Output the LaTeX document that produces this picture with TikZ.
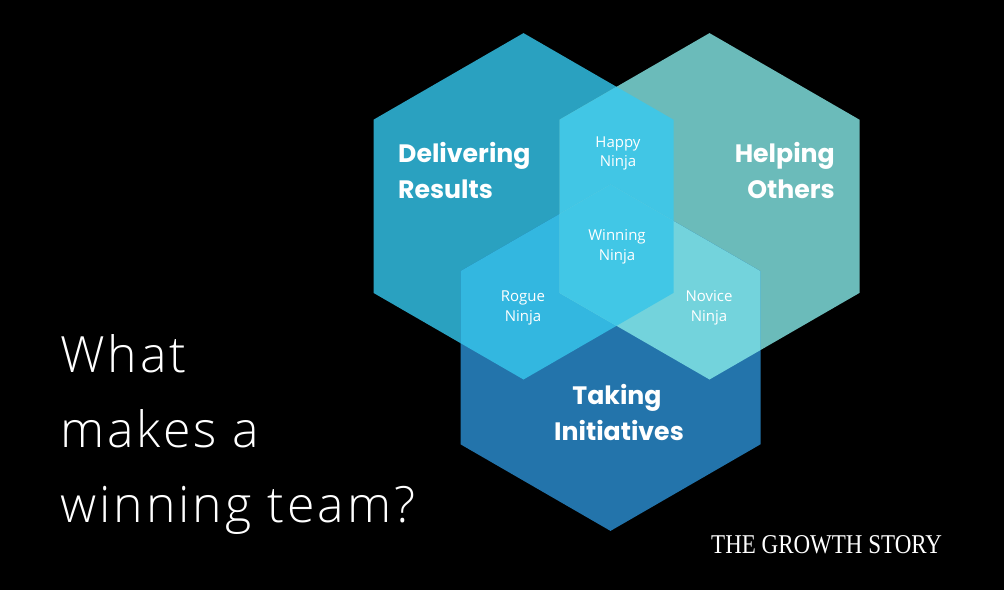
\documentclass[tikz,border=0pt]{standalone}
\usepackage{fontspec}
\setmainfont{Open Sans}
\newfontfamily\popfont{Poppins}
\newfontfamily\lightfont{Open Sans Light}[LetterSpace=6]
\newfontfamily\storyfont{Liberation Serif}
\definecolor{cA}{HTML}{2AA1C0}
\definecolor{cB}{HTML}{6BBBBA}
\definecolor{cC}{HTML}{2374AB}
\definecolor{cAB}{HTML}{41C6E5}
\definecolor{cAC}{HTML}{33B7E0}
\definecolor{cBC}{HTML}{73D3DC}
\definecolor{cABC}{HTML}{41C7E6}
\newcommand\hexshape[2]{(#1,#2-173.2) -- (#1+150,#2-86.6) -- (#1+150,#2+86.6) -- (#1,#2+173.2) -- (#1-150,#2+86.6) -- (#1-150,#2-86.6) -- cycle}
\tikzset{
  biglabel/.style={text=white, inner sep=0pt, font=\popfont\bfseries\fontsize{25.2}{30}\selectfont},
  smalllabel/.style={text=white, inner sep=0pt, font=\fontsize{15}{18}\selectfont},
  titlelabel/.style={text=white, inner sep=0pt, anchor=base west, font=\lightfont\fontsize{50}{56}\selectfont},
  storylabel/.style={text=white, inner sep=0pt, anchor=base west, font=\storyfont\fontsize{23}{26}\selectfont}
}
\begin{document}
\begin{tikzpicture}[x=1pt,y=-1pt]
\useasboundingbox[fill=black] (0,0) rectangle (1004,590);
% base hexagons
\fill[cA] \hexshape{523.5}{206.3};
\fill[cB] \hexshape{709.5}{206.3};
\fill[cC] \hexshape{610.5}{357.7};
% pairwise overlaps
\begin{scope}
  \clip \hexshape{523.5}{206.3};
  \fill[cAB] \hexshape{709.5}{206.3};
\end{scope}
\begin{scope}
  \clip \hexshape{523.5}{206.3};
  \fill[cAC] \hexshape{610.5}{357.7};
\end{scope}
\begin{scope}
  \clip \hexshape{709.5}{206.3};
  \fill[cBC] \hexshape{610.5}{357.7};
\end{scope}
\begin{scope}
  \clip \hexshape{523.5}{206.3};
  \clip \hexshape{709.5}{206.3};
  \fill[cABC] \hexshape{610.5}{357.7};
\end{scope}
% big labels
\node[biglabel, anchor=base west] (dr1) at (398,162) {Delivering};
\node[biglabel, anchor=base west] (dr2) at (398,198) {Results};
\node[biglabel, anchor=base east] (ho1) at (835,162) {Helping};
\node[biglabel, anchor=base east] (ho2) at (835,198) {Others};
\node[biglabel, anchor=base] (ti1) at (617,404) {Taking};
\node[biglabel, anchor=base] (ti2) at (619,440) {Initiatives};
% small labels
\node[smalllabel, anchor=base] (hn1) at (618,147) {Happy};
\node[smalllabel, anchor=base] (hn2) at (618,166) {Ninja};
\node[smalllabel, anchor=base] (wn1) at (617,240) {Winning};
\node[smalllabel, anchor=base] (wn2) at (617,260) {Ninja};
\node[smalllabel, anchor=base] (rn1) at (523,301) {Rogue};
\node[smalllabel, anchor=base] (rn2) at (523,321) {Ninja};
\node[smalllabel, anchor=base] (nn1) at (709,301) {Novice};
\node[smalllabel, anchor=base] (nn2) at (709,321) {Ninja};
% title
\node[titlelabel] (t1) at (60,372) {What};
\node[titlelabel] (t2) at (60,447) {makes a};
\node[titlelabel] (t3) at (60,522) {winning team?};
% brand
\node[storylabel] (brand) at (711,553) {\scalebox{1}[1.18]{THE GROWTH STORY}};
\end{tikzpicture}
\end{document}
